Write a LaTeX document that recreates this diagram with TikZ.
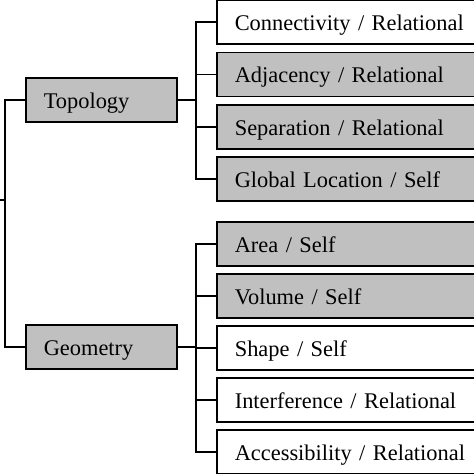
\documentclass[tikz,border=0pt]{standalone}
\usepackage{fontspec}
\setmainfont{Liberation Serif}
\definecolor{boxgray}{HTML}{C0C0C0}
\tikzset{
  lbl/.style={draw=black, line width=1.6pt, minimum height=44pt, inner ysep=0pt,
    text height=21pt, text depth=5pt, font=\fontsize{22.4}{26}\selectfont, anchor=west, align=left},
  leftbox/.style={lbl, fill=boxgray, text width=115pt, inner xsep=18pt},
  rightbox/.style={lbl, text width=284pt, inner xsep=18pt},
  graybox/.style={rightbox, fill=boxgray},
  whitebox/.style={rightbox, fill=white},
  wire/.style={line width=1.6pt}
}
\begin{document}
\begin{tikzpicture}[x=1pt,y=-1pt]
\useasboundingbox (0,0) rectangle (474,474);
\clip (0,0) rectangle (474,474);
\node[leftbox] (topo) at (25,100) {Topology};
\node[leftbox] (geo) at (25,347) {Geometry};
\node[whitebox] (c1) at (216,22) {Connectivity / Relational};
\node[graybox] (c2) at (216,74.5) {Adjacency / Relational};
\node[graybox] (c3) at (216,127) {Separation / Relational};
\node[graybox] (c4) at (216,179) {Global Location / Self};
\node[graybox] (g1) at (216,244) {Area / Self};
\node[graybox] (g2) at (216,296) {Volume / Self};
\node[whitebox] (g3) at (216,348) {Shape / Self};
\node[whitebox] (g4) at (216,400) {Interference / Relational};
\node[whitebox] (g5) at (216,452) {Accessibility / Relational};
\coordinate (root) at (0,200);
\coordinate (trunk) at (5,200);
\coordinate (tb) at (196,100);
\coordinate (gb) at (196,347);
\draw[wire] (root) -- (trunk) |- (topo.west);
\draw[wire] (trunk) |- (geo.west);
\foreach \c in {c1,c2,c3,c4} \draw[wire] (topo.east) -- (tb) |- (\c.west);
\foreach \c in {g1,g2,g3,g4,g5} \draw[wire] (geo.east) -- (gb) |- (\c.west);
\end{tikzpicture}
\end{document}
